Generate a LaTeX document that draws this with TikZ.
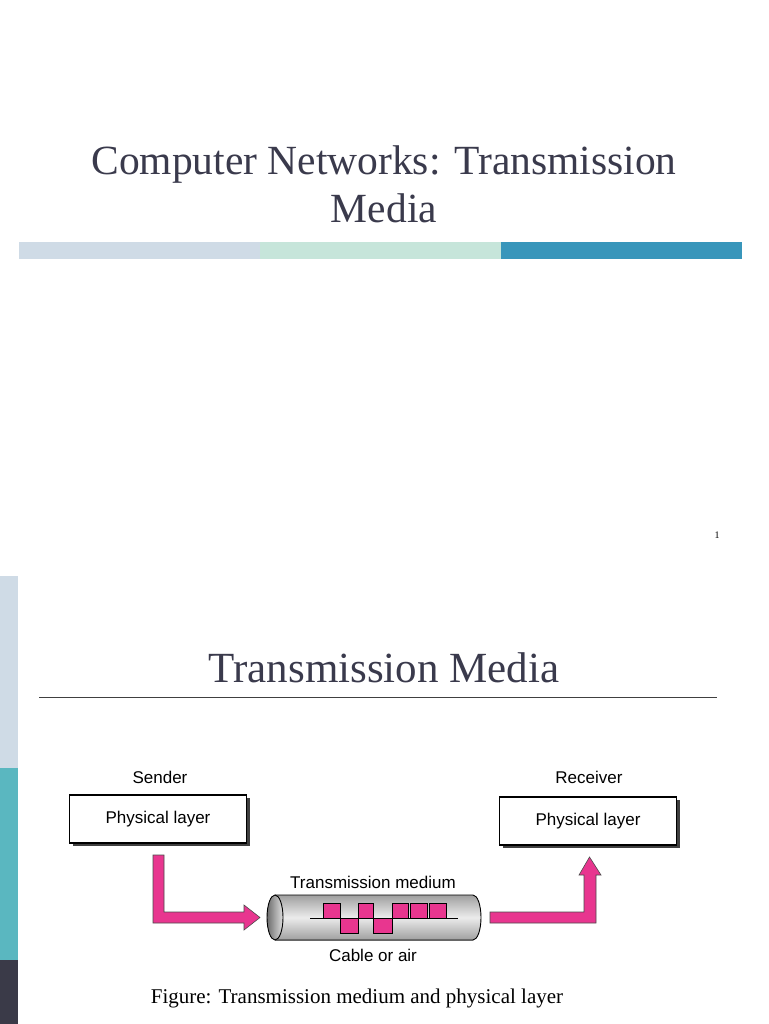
\documentclass[tikz,border=0pt]{standalone}
\usepackage{fontspec}
\setmainfont{Liberation Serif}
\setsansfont{Liberation Sans}
\begin{document}
\begin{tikzpicture}[x=1pt,y=-1pt]
\definecolor{ttl}{HTML}{3A3A4C}
\definecolor{cA}{HTML}{CFDBE6}
\definecolor{cB}{HTML}{C6E5DA}
\definecolor{cC}{HTML}{3896BB}
\definecolor{cD}{HTML}{5AB7C0}
\definecolor{cE}{HTML}{3A3A48}
\definecolor{pnk}{HTML}{E8368F}
\tikzset{
 title/.style={font=\fontsize{41.5}{48}\selectfont, text=ttl, align=center},
 lbl/.style={font=\sffamily\fontsize{17}{20}\selectfont},
 layerbox/.style={draw=black, line width=1.1pt, fill=white, minimum width=177pt, minimum height=48pt, font=\sffamily\fontsize{17}{20}\selectfont},
 shadowbox/.style={fill=black!75, minimum width=177pt, minimum height=48pt},
 pulse/.style={fill=pnk, draw=black, line width=0.7pt},
 arrowfill/.style={fill=pnk, draw=black!70, line width=0.6pt}
}
\useasboundingbox (0,0) rectangle (768,1024);
\fill[white] (0,0) rectangle (768,1024);
% slide 1
\node[title] (t1) at (384,184) {Computer Networks: Transmission\\[0pt]Media};
\fill[cA] (19,242) rectangle (260,259);
\fill[cB] (260,242) rectangle (501,259);
\fill[cC] (501,242) rectangle (742,259);
\node[font=\fontsize{10}{12}\selectfont] (pg) at (717,535) {1};
% slide 2
\fill[cA] (0,576) rectangle (18,768);
\fill[cD] (0,768) rectangle (18,960);
\fill[cE] (0,960) rectangle (18,1024);
\node[title, font=\fontsize{43}{48}\selectfont] (t2) at (384,668) {Transmission Media};
\draw[black!75, line width=0.8pt] (39,697) -- (717,697);
% boxes
\node[shadowbox] at (161,822) {};
\node[layerbox] (snd) at (158,819) {Physical layer};
\node[shadowbox] at (591,824) {};
\node[layerbox] (rcv) at (588,821) {Physical layer};
\node[lbl] (sl) at (160,777) {Sender};
\node[lbl] (rl) at (589,777) {Receiver};
% arrows
\draw[arrowfill] (153,855) -- (164,855) -- (164,912) -- (244,912) -- (244,905) -- (260,917.5) -- (244,930) -- (244,923) -- (153,923) -- cycle;
\draw[arrowfill] (490,912) -- (584,912) -- (584,875) -- (579,875) -- (589.5,857) -- (601,875) -- (596,875) -- (596,923) -- (490,923) -- cycle;
% cylinder
\shade[top color=gray!75, bottom color=gray!75, middle color=gray!15]
  (275,895) rectangle (473,940);
\shade[top color=gray!75, bottom color=gray!75, middle color=gray!15]
  (473,917.5) ellipse[x radius=8, y radius=22.5];
\draw[black, line width=0.9pt] (275,895) -- (473,895) arc[start angle=-90, end angle=90, x radius=8, y radius=22.5] -- (275,940);
\shade[left color=gray!85!black, right color=gray!25, draw=black, line width=0.9pt]
  (275,917.5) ellipse[x radius=8, y radius=22.5];
\node[lbl] (tm) at (373,882) {Transmission medium};
\node[lbl] (ca) at (373,955) {Cable or air};
% waveform
\draw[pulse] (323,903) rectangle (340,918);
\draw[pulse] (340,918) rectangle (358,933);
\draw[pulse] (358,903) rectangle (373,918);
\draw[pulse] (373,918) rectangle (392,933);
\draw[pulse] (392,903) rectangle (408,918);
\draw[pulse] (410,903) rectangle (427,918);
\draw[pulse] (429,903) rectangle (446,918);
\draw[black, line width=1pt] (310,918) -- (458,918);
\node[font=\fontsize{21}{24}\selectfont] (cap) at (357,998) {Figure: Transmission medium and physical layer};
\end{tikzpicture}
\end{document}
